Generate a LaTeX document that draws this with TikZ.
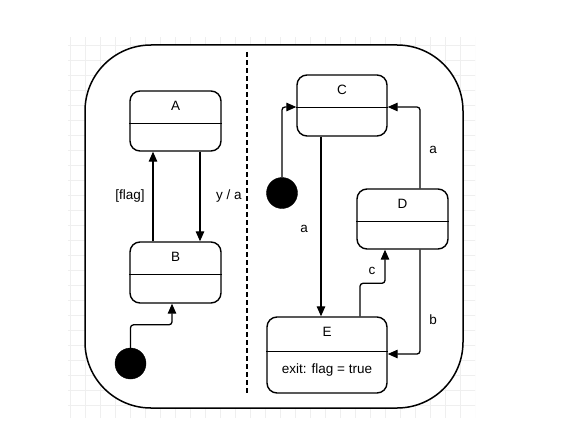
\documentclass[tikz,border=0pt]{standalone}
\usepackage{fontspec}
\setmainfont{Liberation Sans}
\usetikzlibrary{arrows.meta}
\definecolor{gridc}{HTML}{EFEFEF}
\tikzset{
  statebox/.style={draw=black, line width=1.4pt, rounded corners=10pt, inner sep=0pt, fill=white},
  initdot/.style={circle, fill=black, draw=black, minimum size=31pt, inner sep=0pt},
  conn/.style={draw=black, line width=1.3pt, rounded corners=3pt, -{Triangle[length=10pt,width=8.5pt]}},
  lbl/.style={font=\fontsize{13.5}{16}\selectfont, inner sep=0pt},
  divider/.style={draw=black, line width=1.4pt}
}
\begin{document}
\begin{tikzpicture}[x=1pt,y=-1pt]
\useasboundingbox (0,0) rectangle (572,428);
% grid
\begin{scope}
\clip (68,38) rectangle (475,417);
\foreach \gx in {70,85,...,475} \draw[gridc, line width=0.8pt] (\gx,30) -- (\gx,420);
\foreach \gy in {45,60,...,417} \draw[gridc, line width=0.8pt] (60,\gy) -- (480,\gy);
\end{scope}
% outer composite state
\node[draw=black, fill=white, line width=1.5pt, rounded corners=66pt, minimum width=378pt, minimum height=363pt, inner sep=0pt] (outer) at (274,226.5) {};
% region separator
\coordinate (sepT) at (247,52);
\coordinate (sepB) at (247,393);
\draw[line width=1.3pt, dash pattern=on 5pt off 3pt] (sepT) -- (sepB);
% states
\node[statebox, minimum width=91pt, minimum height=60pt] (A) at (175.5,121) {};
\node[statebox, minimum width=91pt, minimum height=61pt] (B) at (175.5,272.5) {};
\node[statebox, minimum width=90pt, minimum height=61pt] (C) at (342,105.5) {};
\node[statebox, minimum width=91pt, minimum height=60pt] (D) at (402.5,219) {};
\node[statebox, minimum width=120pt, minimum height=76pt] (E) at (327,355) {};
% dividers
\draw[divider] ([yshift=-33pt]A.north west) -- ([yshift=-33pt]A.north east);
\draw[divider] ([yshift=-33pt]B.north west) -- ([yshift=-33pt]B.north east);
\draw[divider] ([yshift=-33pt]C.north west) -- ([yshift=-33pt]C.north east);
\draw[divider] ([yshift=-33pt]D.north west) -- ([yshift=-33pt]D.north east);
\draw[divider] ([yshift=-35pt]E.north west) -- ([yshift=-35pt]E.north east);
% titles
\node[lbl] (At) at ([yshift=-16pt]A.north) {A};
\node[lbl] (Bt) at ([yshift=-16pt]B.north) {B};
\node[lbl] (Ct) at ([yshift=-16pt]C.north) {C};
\node[lbl] (Dt) at ([yshift=-16pt]D.north) {D};
\node[lbl] (Et) at ([yshift=-16pt]E.north) {E};
\node[lbl] (Ex) at ([yshift=-54pt]E.north) {exit: flag = true};
% initial pseudostates
\node[initdot] (i1) at (130.5,363.5) {};
\node[initdot] (i2) at (282,193) {};
% transitions
\draw[conn] ([xshift=24.5pt]A.south) -- ([xshift=24.5pt]B.north);
\draw[conn] ([xshift=-22.5pt]B.north) -- ([xshift=-22.5pt]A.south);
\draw[conn] (i1.north) -- ++(0,-23) -| ([xshift=-3.5pt]B.south);
\draw[conn] (i2.north) |- ([yshift=-1.5pt]C.west);
\draw[conn] ([xshift=-21pt]C.south) -- ([xshift=-21pt]C.south |- E.north);
\draw[conn] ([xshift=17.5pt]D.north) |- ([yshift=-1.5pt]C.east);
\draw[conn] ([xshift=17.5pt]D.south) |- ([yshift=1pt]E.east);
\draw[conn] ([xshift=33pt]E.north) -- ++(0,-33) -| ([xshift=-17.5pt]D.south);
% labels
\node[lbl] (lflag) at (130,196) {[flag]};
\node[lbl] (lya) at (229,196) {y / a};
\node[lbl] (la1) at (304,229) {a};
\node[lbl] (la2) at (433,150) {a};
\node[lbl] (lc) at (372,271) {c};
\node[lbl] (lb) at (433,320) {b};
\end{tikzpicture}
\end{document}
